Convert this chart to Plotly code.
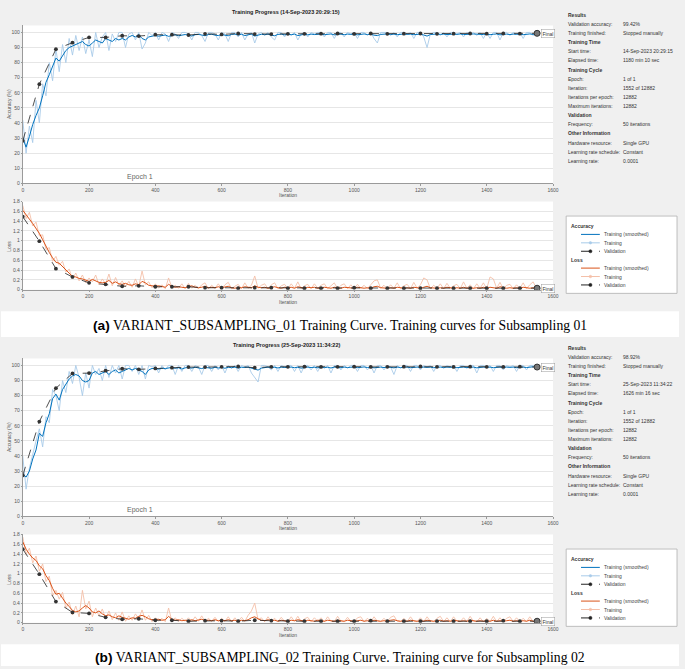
import plotly.graph_objects as go

W, H = 685, 669

iters = list(range(0, 1551, 10))
val_iters = list(range(0, 1551, 50)) + [1552]
x_ticks = [0, 200, 400, 600, 800, 1000, 1200, 1400, 1600]

# ---- panel (a) ----
acc_smooth_a = [
    30, 24, 31, 39, 45, 50, 58, 67, 72, 78,
    83, 81, 85, 88, 90, 91, 92, 93, 94, 92,
    91, 93, 95, 94, 93, 96, 95, 94, 96, 95,
    96, 95, 97, 98, 97, 98.5, 96, 95, 97, 97.5,
    98, 97.5, 98, 98.3, 97.4, 98.2, 98.5, 97.8, 98.4, 98.6,
    98.2, 97.6, 98.5, 98.7, 98.3, 97.8, 98.6, 98.8, 98.2, 97.9,
    98.6, 98.4, 97.8, 98.7, 98.9, 98.3, 98.8, 97.9, 98.6, 98.9,
    97.6, 98.4, 98.8, 98.5, 98.9, 98.2, 97.8, 98.7, 98.9, 98.4,
    98.8, 98.5, 98.9, 97.9, 98.6, 98.8, 98.4, 98.9, 98.6, 98.8,
    98.9, 98.5, 98.8, 99.0, 98.4, 98.8, 98.9, 98.5, 98.9, 98.7,
    98.9, 98.4, 98.8, 99.0, 98.6, 98.9, 98.2, 97.9, 98.7, 98.9,
    99.0, 98.6, 98.9, 98.5, 98.8, 99.0, 98.7, 98.9, 98.5, 98.8,
    98.9, 98.3, 97.6, 98.6, 98.9, 99.0, 98.7, 98.9, 98.6, 98.8,
    98.9, 98.7, 99.0, 98.6, 98.9, 98.8, 99.0, 98.7, 98.9, 98.6,
    98.9, 98.5, 98.8, 99.0, 98.4, 98.8, 98.9, 98.6, 98.9, 98.7,
    98.9, 98.5, 98.8, 99.0, 98.7, 99.1,
]
acc_raw_a = [
    42, 20, 38, 27, 55, 40, 66, 58, 80, 68,
    89, 74, 92, 80, 96, 85, 98, 88, 97, 86,
    95, 84, 100, 90, 97, 100, 88, 99, 94, 100,
    100, 90, 99, 100, 95, 100, 89, 93, 100, 98,
    100, 95, 100, 99, 94, 100, 99, 96, 100, 100,
    99, 95, 100, 100, 98, 94, 100, 100, 99, 95,
    100, 99, 94, 100, 100, 97, 100, 95, 99, 100,
    93, 99, 100, 98, 100, 97, 95, 100, 100, 97,
    100, 98, 100, 95, 99, 100, 97, 100, 99, 100,
    100, 97, 100, 100, 96, 100, 100, 97, 100, 99,
    100, 96, 100, 100, 98, 100, 96, 93, 100, 100,
    100, 98, 100, 97, 100, 100, 99, 100, 96, 100,
    100, 97, 90, 99, 100, 100, 98, 100, 97, 100,
    100, 99, 100, 97, 100, 99, 100, 98, 100, 96,
    100, 96, 100, 100, 95, 100, 100, 98, 100, 99,
    100, 96, 100, 100, 98, 100,
]
loss_smooth_a = [
    1.62, 1.52, 1.44, 1.35, 1.26, 1.15, 1.02, 0.88, 0.76, 0.65,
    0.56, 0.54, 0.47, 0.40, 0.33, 0.27, 0.26, 0.23, 0.22, 0.19,
    0.17, 0.21, 0.18, 0.15, 0.14, 0.15, 0.19, 0.13, 0.16, 0.12,
    0.11, 0.13, 0.10, 0.09, 0.12, 0.10, 0.17, 0.14, 0.09, 0.08,
    0.07, 0.08, 0.06, 0.05, 0.11, 0.07, 0.05, 0.06, 0.05, 0.04,
    0.06, 0.08, 0.05, 0.04, 0.05, 0.07, 0.04, 0.05, 0.04, 0.06,
    0.04, 0.05, 0.07, 0.04, 0.03, 0.05, 0.04, 0.06, 0.05, 0.04,
    0.08, 0.05, 0.04, 0.05, 0.03, 0.05, 0.06, 0.04, 0.03, 0.05,
    0.04, 0.05, 0.03, 0.06, 0.04, 0.03, 0.05, 0.04, 0.05, 0.03,
    0.04, 0.05, 0.04, 0.03, 0.05, 0.04, 0.03, 0.05, 0.04, 0.04,
    0.03, 0.05, 0.04, 0.03, 0.04, 0.03, 0.06, 0.07, 0.04, 0.03,
    0.03, 0.04, 0.03, 0.05, 0.04, 0.03, 0.04, 0.03, 0.05, 0.04,
    0.03, 0.05, 0.07, 0.04, 0.03, 0.03, 0.04, 0.03, 0.05, 0.04,
    0.03, 0.04, 0.03, 0.05, 0.03, 0.04, 0.03, 0.04, 0.03, 0.05,
    0.03, 0.05, 0.04, 0.03, 0.06, 0.04, 0.03, 0.04, 0.03, 0.04,
    0.03, 0.05, 0.04, 0.03, 0.04, 0.03,
]
loss_raw_a = [
    1.72, 1.45, 1.58, 1.30, 1.38, 1.10, 1.12, 0.82, 0.86, 0.58,
    0.68, 0.50, 0.58, 0.36, 0.42, 0.22, 0.34, 0.18, 0.30, 0.14,
    0.24, 0.16, 0.30, 0.10, 0.22, 0.12, 0.32, 0.08, 0.25, 0.09,
    0.18, 0.06, 0.17, 0.05, 0.22, 0.07, 0.38, 0.10, 0.16, 0.04,
    0.12, 0.03, 0.10, 0.02, 0.24, 0.04, 0.09, 0.03, 0.12, 0.02,
    0.13, 0.03, 0.09, 0.02, 0.10, 0.14, 0.02, 0.09, 0.03, 0.12,
    0.02, 0.10, 0.15, 0.02, 0.07, 0.11, 0.02, 0.14, 0.03, 0.09,
    0.28, 0.03, 0.09, 0.12, 0.02, 0.10, 0.14, 0.02, 0.08, 0.11,
    0.02, 0.12, 0.03, 0.16, 0.02, 0.08, 0.11, 0.02, 0.12, 0.03,
    0.09, 0.12, 0.02, 0.08, 0.14, 0.02, 0.09, 0.12, 0.02, 0.10,
    0.02, 0.11, 0.03, 0.09, 0.02, 0.10, 0.18, 0.20, 0.03, 0.09,
    0.02, 0.10, 0.03, 0.14, 0.02, 0.08, 0.11, 0.02, 0.15, 0.03,
    0.10, 0.24, 0.20, 0.02, 0.09, 0.03, 0.12, 0.02, 0.13, 0.03,
    0.08, 0.11, 0.02, 0.16, 0.03, 0.10, 0.02, 0.12, 0.03, 0.14,
    0.02, 0.26, 0.22, 0.03, 0.15, 0.02, 0.09, 0.11, 0.02, 0.10,
    0.03, 0.14, 0.02, 0.10, 0.16, 0.03,
]
val_acc_a = [28.2, 65.7, 88.9, 93.2, 96.7, 96.7, 97.8, 97.6, 98.5, 98.5, 98.3,
             99.1, 98.7, 99.3, 98.9, 98.9, 99.1, 99.1, 99.2, 99.3, 99.0, 99.3,
             99.1, 99.2, 99.3, 99.1, 99.2, 99.3, 99.2, 99.3, 99.2, 99.4, 99.42]
val_loss_a = [1.49, 0.99, 0.43, 0.26, 0.14, 0.11, 0.07, 0.08, 0.06, 0.06, 0.06,
              0.04, 0.04, 0.03, 0.04, 0.04, 0.03, 0.03, 0.03, 0.03, 0.04, 0.03,
              0.03, 0.03, 0.03, 0.03, 0.03, 0.03, 0.03, 0.03, 0.03, 0.03, 0.03]

# ---- panel (b) ----
acc_smooth_b = [
    28, 26, 30, 38, 44, 55, 53, 62, 68, 78,
    81, 77, 84, 88, 91, 93, 94, 93, 90, 89,
    90, 95, 96, 94, 95, 96, 94, 96, 97, 95,
    96, 97, 98, 97, 98, 97, 96, 94, 97, 98,
    98, 97.5, 98.2, 97.9, 98.4, 98.7, 98.1, 98.5, 97.6, 98.4,
    98.6, 98.2, 98.8, 98.4, 97.9, 98.7, 98.5, 98.1, 98.8, 98.3,
    98.7, 98.1, 98.8, 98.5, 98.9, 98.3, 98.8, 98.6, 98.9, 98.4,
    97.4, 96.9, 98.2, 98.7, 98.9, 98.5, 98.8, 98.3, 98.9, 98.6,
    98.8, 98.9, 98.5, 98.8, 98.2, 98.7, 98.9, 98.6, 98.8, 98.4,
    98.9, 98.6, 98.8, 98.3, 98.9, 98.7, 98.5, 98.9, 98.6, 98.8,
    98.9, 98.5, 98.8, 99.0, 98.6, 98.9, 98.4, 98.8, 98.9, 98.6,
    98.9, 98.7, 98.4, 98.9, 98.6, 98.8, 98.9, 98.5, 98.8, 98.9,
    98.6, 98.9, 98.7, 98.9, 98.5, 98.8, 98.9, 98.6, 98.9, 98.7,
    98.9, 98.5, 98.8, 98.9, 98.6, 98.8, 98.9, 98.4, 98.8, 98.9,
    98.7, 98.9, 98.5, 98.8, 98.9, 98.6, 98.9, 98.7, 98.9, 98.5,
    98.8, 98.9, 98.6, 99.0, 99.1, 99.2,
]
acc_raw_b = [
    40, 18, 32, 42, 50, 58, 46, 66, 62, 84,
    80, 70, 90, 82, 96, 88, 100, 92, 80, 95,
    85, 100, 94, 98, 90, 100, 92, 100, 95, 100,
    91, 100, 100, 96, 100, 94, 100, 91, 100, 99,
    100, 95, 100, 97, 100, 100, 94, 100, 96, 100,
    100, 96, 100, 99, 94, 100, 100, 96, 100, 97,
    100, 95, 100, 98, 100, 96, 100, 99, 100, 95,
    92, 89, 100, 100, 99, 97, 100, 96, 100, 99,
    100, 100, 96, 100, 95, 100, 100, 97, 100, 96,
    100, 98, 100, 95, 100, 100, 97, 100, 98, 100,
    100, 96, 100, 100, 97, 100, 95, 100, 100, 97,
    100, 99, 94, 100, 98, 100, 100, 96, 100, 100,
    97, 100, 99, 100, 96, 100, 100, 98, 100, 99,
    100, 96, 100, 100, 98, 100, 100, 95, 100, 100,
    99, 100, 96, 100, 100, 97, 100, 99, 100, 96,
    100, 100, 97, 100, 100, 100,
]
loss_smooth_b = [
    1.65, 1.50, 1.40, 1.32, 1.27, 1.16, 1.10, 0.96, 0.86, 0.70,
    0.58, 0.60, 0.50, 0.40, 0.33, 0.25, 0.22, 0.24, 0.30, 0.35,
    0.30, 0.22, 0.20, 0.24, 0.18, 0.14, 0.16, 0.12, 0.10, 0.14,
    0.11, 0.09, 0.07, 0.10, 0.09, 0.13, 0.15, 0.12, 0.08, 0.06,
    0.06, 0.07, 0.05, 0.06, 0.13, 0.07, 0.05, 0.06, 0.04, 0.05,
    0.04, 0.06, 0.04, 0.05, 0.07, 0.04, 0.05, 0.04, 0.06, 0.04,
    0.05, 0.04, 0.06, 0.04, 0.05, 0.03, 0.05, 0.04, 0.06, 0.10,
    0.12, 0.08, 0.05, 0.04, 0.06, 0.04, 0.05, 0.03, 0.05, 0.04,
    0.03, 0.05, 0.04, 0.06, 0.04, 0.03, 0.05, 0.04, 0.03, 0.05,
    0.04, 0.03, 0.05, 0.04, 0.03, 0.05, 0.04, 0.03, 0.05, 0.04,
    0.03, 0.04, 0.05, 0.03, 0.04, 0.03, 0.05, 0.04, 0.03, 0.04,
    0.03, 0.05, 0.06, 0.04, 0.03, 0.04, 0.03, 0.05, 0.04, 0.03,
    0.04, 0.03, 0.05, 0.04, 0.03, 0.04, 0.05, 0.03, 0.04, 0.03,
    0.05, 0.04, 0.03, 0.04, 0.03, 0.05, 0.04, 0.03, 0.04, 0.03,
    0.04, 0.03, 0.05, 0.03, 0.04, 0.03, 0.04, 0.05, 0.03, 0.04,
    0.03, 0.04, 0.03, 0.05, 0.03, 0.03,
]
loss_raw_b = [
    1.75, 1.40, 1.52, 1.22, 1.36, 1.05, 1.20, 0.84, 0.95, 0.55,
    0.66, 0.48, 0.62, 0.30, 0.42, 0.16, 0.34, 0.12, 0.66, 0.28,
    0.44, 0.12, 0.30, 0.14, 0.28, 0.08, 0.24, 0.06, 0.20, 0.05,
    0.22, 0.03, 0.14, 0.05, 0.18, 0.08, 0.26, 0.05, 0.15, 0.02,
    0.10, 0.03, 0.09, 0.02, 0.30, 0.03, 0.10, 0.02, 0.09, 0.03,
    0.10, 0.02, 0.12, 0.03, 0.14, 0.02, 0.09, 0.03, 0.11, 0.02,
    0.09, 0.03, 0.12, 0.02, 0.10, 0.02, 0.11, 0.03, 0.15, 0.24,
    0.40, 0.06, 0.10, 0.02, 0.12, 0.03, 0.09, 0.02, 0.11, 0.03,
    0.02, 0.12, 0.03, 0.13, 0.02, 0.08, 0.11, 0.02, 0.10, 0.03,
    0.10, 0.02, 0.12, 0.03, 0.02, 0.13, 0.03, 0.02, 0.11, 0.03,
    0.02, 0.10, 0.12, 0.02, 0.09, 0.02, 0.12, 0.03, 0.02, 0.09,
    0.02, 0.11, 0.14, 0.03, 0.02, 0.09, 0.02, 0.12, 0.03, 0.02,
    0.10, 0.02, 0.12, 0.03, 0.02, 0.09, 0.13, 0.02, 0.10, 0.02,
    0.12, 0.03, 0.02, 0.10, 0.02, 0.13, 0.03, 0.02, 0.10, 0.02,
    0.09, 0.02, 0.13, 0.02, 0.10, 0.02, 0.09, 0.12, 0.02, 0.10,
    0.02, 0.09, 0.02, 0.12, 0.02, 0.03,
]
val_acc_b = [27.1, 62.8, 84.9, 94.7, 94.9, 96.5, 97.8, 97.4, 98.0, 98.5, 98.9,
             98.9, 99.1, 99.3, 98.5, 99.1, 99.1, 99.2, 99.0, 99.1, 99.2, 99.0,
             99.1, 99.2, 99.3, 99.1, 99.0, 99.2, 99.1, 99.0, 99.2, 99.0, 98.92]
val_loss_b = [1.50, 0.99, 0.43, 0.21, 0.19, 0.11, 0.07, 0.08, 0.05, 0.05, 0.03,
              0.04, 0.04, 0.03, 0.05, 0.04, 0.03, 0.03, 0.03, 0.03, 0.03, 0.04,
              0.03, 0.03, 0.03, 0.03, 0.03, 0.03, 0.03, 0.04, 0.03, 0.03, 0.03]

info_a = ["99.42%", "Stopped manually", "14-Sep-2023 20:29:15", "1180 min 10 sec"]
info_b = ["98.92%", "Stopped manually", "25-Sep-2023 11:34:22", "1626 min 16 sec"]

SANS = "Liberation Sans, Arial, sans-serif"
BLUE, LBLUE = "#0072bd", "#a8cbe9"
ORANGE, LORANGE = "#d95319", "#f4bfa8"


def X(p):
    return p / W


def Y(p):
    return 1 - p / H


def label(x, y, text, size=5, color="#333", xanchor="left", **kw):
    # paper-positioned text in pixel coordinates, anchored explicitly
    return dict(x=X(x), y=Y(y), xref="paper", yref="paper", text=text, showarrow=False,
                xanchor=xanchor, yanchor="middle",
                font=dict(family=kw.pop("family", SANS), size=size, color=color), **kw)


fig = go.Figure()
shapes, annos = [], []

# white caption bands (paper is the grey MATLAB window colour)
for y0, y1 in [(311, 337), (647, 669)]:
    shapes.append(dict(type="rect", xref="paper", yref="paper", x0=0, x1=1,
                       y0=Y(y1), y1=Y(y0), fillcolor="white", line_width=0, layer="below"))

panels = [
    dict(off=0, acc_s=acc_smooth_a, acc_r=acc_raw_a, loss_s=loss_smooth_a, loss_r=loss_raw_a,
         vacc=val_acc_a, vloss=val_loss_a, info=info_a,
         title="Training Progress (14-Sep-2023 20:29:15)",
         caption="<span style='font-family:Liberation Sans'><b>(a)</b></span> VARIANT_SUBSAMPLING_01 Training Curve. Training curves for Subsampling 01",
         cap_y=325),
    dict(off=336, acc_s=acc_smooth_b, acc_r=acc_raw_b, loss_s=loss_smooth_b, loss_r=loss_raw_b,
         vacc=val_acc_b, vloss=val_loss_b, info=info_b,
         title="Training Progress (25-Sep-2023 11:34:22)",
         caption="<span style='font-family:Liberation Sans'><b>(b)</b></span> VARIANT_SUBSAMPLING_02 Training Curve. Training curve for Subsampling 02",
         cap_y=660),
]

axis_font = dict(family=SANS, size=5, color="#555")
layout_axes = {}

for k, p in enumerate(panels):
    off = p["off"]
    ia, il = 2 * k + 1, 2 * k + 2
    boxes = [(ia, 22.7, 182, [0, 104.6], 10, p["acc_s"], p["acc_r"], p["vacc"], BLUE, LBLUE),
             (il, 200.3, 289.3, [0, 1.8], 0.2, p["loss_s"], p["loss_r"], p["vloss"], ORANGE, LORANGE)]
    for idx, top, bot, yr, dt, sm, raw, val, c, lc in boxes:
        xa = "x" if idx == 1 else f"x{idx}"
        ya = "y" if idx == 1 else f"y{idx}"
        layout_axes["xaxis" if idx == 1 else f"xaxis{idx}"] = dict(
            domain=[X(22), X(557.7)], anchor=ya, range=[0, 1600], tickvals=x_ticks,
            showgrid=False, zeroline=False, showline=True, linecolor="#9a9a9a", linewidth=0.8,
            ticks="outside", ticklen=1.5, tickcolor="#9a9a9a", tickfont=axis_font)
        layout_axes["yaxis" if idx == 1 else f"yaxis{idx}"] = dict(
            domain=[Y(bot + off), Y(top + off)], anchor=xa, range=yr, dtick=dt, tick0=0,
            showgrid=True, gridcolor="#e6e6e6", gridwidth=0.7, zeroline=False,
            showline=True, linecolor="#9a9a9a", linewidth=0.8,
            ticks="outside", ticklen=1, tickcolor="#9a9a9a", tickfont=axis_font)
        fig.add_trace(go.Scatter(x=iters, y=raw, mode="lines", line=dict(color=lc, width=0.9),
                                 xaxis=xa, yaxis=ya, showlegend=False))
        fig.add_trace(go.Scatter(x=iters, y=sm, mode="lines", line=dict(color=c, width=1),
                                 xaxis=xa, yaxis=ya, showlegend=False))
        fig.add_trace(go.Scatter(x=val_iters, y=val, mode="lines+markers",
                                 line=dict(color="#222", width=0.8, dash="dash"),
                                 marker=dict(color="#333", size=3.8),
                                 xaxis=xa, yaxis=ya, showlegend=False))
        fig.add_trace(go.Scatter(x=val_iters[-1:], y=val[-1:], mode="markers",
                                 marker=dict(color="#777", size=6, line=dict(color="#333", width=1)),
                                 xaxis=xa, yaxis=ya, showlegend=False))
        annos.append(dict(x=val_iters[-1], y=val[-1], xref=xa, yref=ya, text="Final",
                          xanchor="left", yanchor="middle", xshift=4, showarrow=False,
                          font=dict(family=SANS, size=5, color="#333"), bgcolor="white",
                          bordercolor="#999", borderwidth=0.5, borderpad=1))
        annos.append(label(290, bot + off + 12, "Iteration", color="#555", xanchor="center"))

    annos.append(label(8, 102 + off, "Accuracy (%)", color="#555", xanchor="center", textangle=-90))
    annos.append(label(8, 245 + off, "Loss", color="#555", xanchor="center", textangle=-90))
    annos.append(label(288, 9 + off, "<b>" + p["title"] + "</b>", size=5.5, color="#222",
                       xanchor="center"))
    annos.append(label(140, 175.7 + off, "Epoch 1", size=7, color="#666", xanchor="center"))

    # info panel
    rows = [("Results", None), ("Validation accuracy:", p["info"][0]),
            ("Training finished:", p["info"][1]), ("Training Time", None),
            ("Start time:", p["info"][2]), ("Elapsed time:", p["info"][3]),
            ("Training Cycle", None), ("Epoch:", "1 of 1"), ("Iteration:", "1552 of 12882"),
            ("Iterations per epoch:", "12882"), ("Maximum iterations:", "12882"),
            ("Validation", None), ("Frequency:", "50 iterations"),
            ("Other Information", None), ("Hardware resource:", "Single GPU"),
            ("Learning rate schedule:", "Constant"), ("Learning rate:", "0.0001")]
    for i, (lab, v) in enumerate(rows):
        yy = 12 + 9.2 * i + off
        txt = f"<b>{lab}</b>" if v is None else lab
        annos.append(label(571, yy, txt))
        if v is not None:
            annos.append(label(626, yy, v))

    # legend box
    shapes.append(dict(type="rect", xref="paper", yref="paper", x0=X(571), x1=X(683),
                       y0=Y(293 + off), y1=Y(215 + off), fillcolor="white",
                       line=dict(color="#b0b0b0", width=0.8)))
    leg = [("Accuracy", None, None), ("Training (smoothed)", BLUE, "none"),
           ("Training", LBLUE, "small"), ("Validation", "#222", "val"),
           ("Loss", None, None), ("Training (smoothed)", ORANGE, "none"),
           ("Training", LORANGE, "small"), ("Validation", "#222", "val")]
    for i, (lab, c, mk) in enumerate(leg):
        yp = 225 + 8.5 * i + off
        if c is None:
            annos.append(label(574, yp, f"<b>{lab}</b>"))
            continue
        shapes.append(dict(type="line", xref="paper", yref="paper", x0=X(586), x1=X(605),
                           y0=Y(yp), y1=Y(yp),
                           line=dict(color=c, width=1, dash="dash" if mk == "val" else "solid")))
        if mk != "none":
            r = 1.6 if mk == "val" else 1.3
            shapes.append(dict(type="circle", xref="paper", yref="paper",
                               x0=X(595.5 - r), x1=X(595.5 + r), y0=Y(yp + r), y1=Y(yp - r),
                               fillcolor=c, line=dict(color=c, width=0.5)))
        annos.append(label(607, yp, lab, color="#444"))

    annos.append(label(342.5, p["cap_y"], p["caption"], size=13.7, color="black",
                       xanchor="center", family="Liberation Serif, DejaVu Serif, serif"))

fig.update_layout(width=W, height=H, margin=dict(l=0, r=0, t=0, b=0),
                  paper_bgcolor="#f0f0f0", plot_bgcolor="white",
                  shapes=shapes, annotations=annos, showlegend=False, **layout_axes)

# drop the browser's default body margin so the figure sits at the page corner
fig.write_html("out.html", config={"displayModeBar": False},
               post_script="document.body.style.margin='0';")
